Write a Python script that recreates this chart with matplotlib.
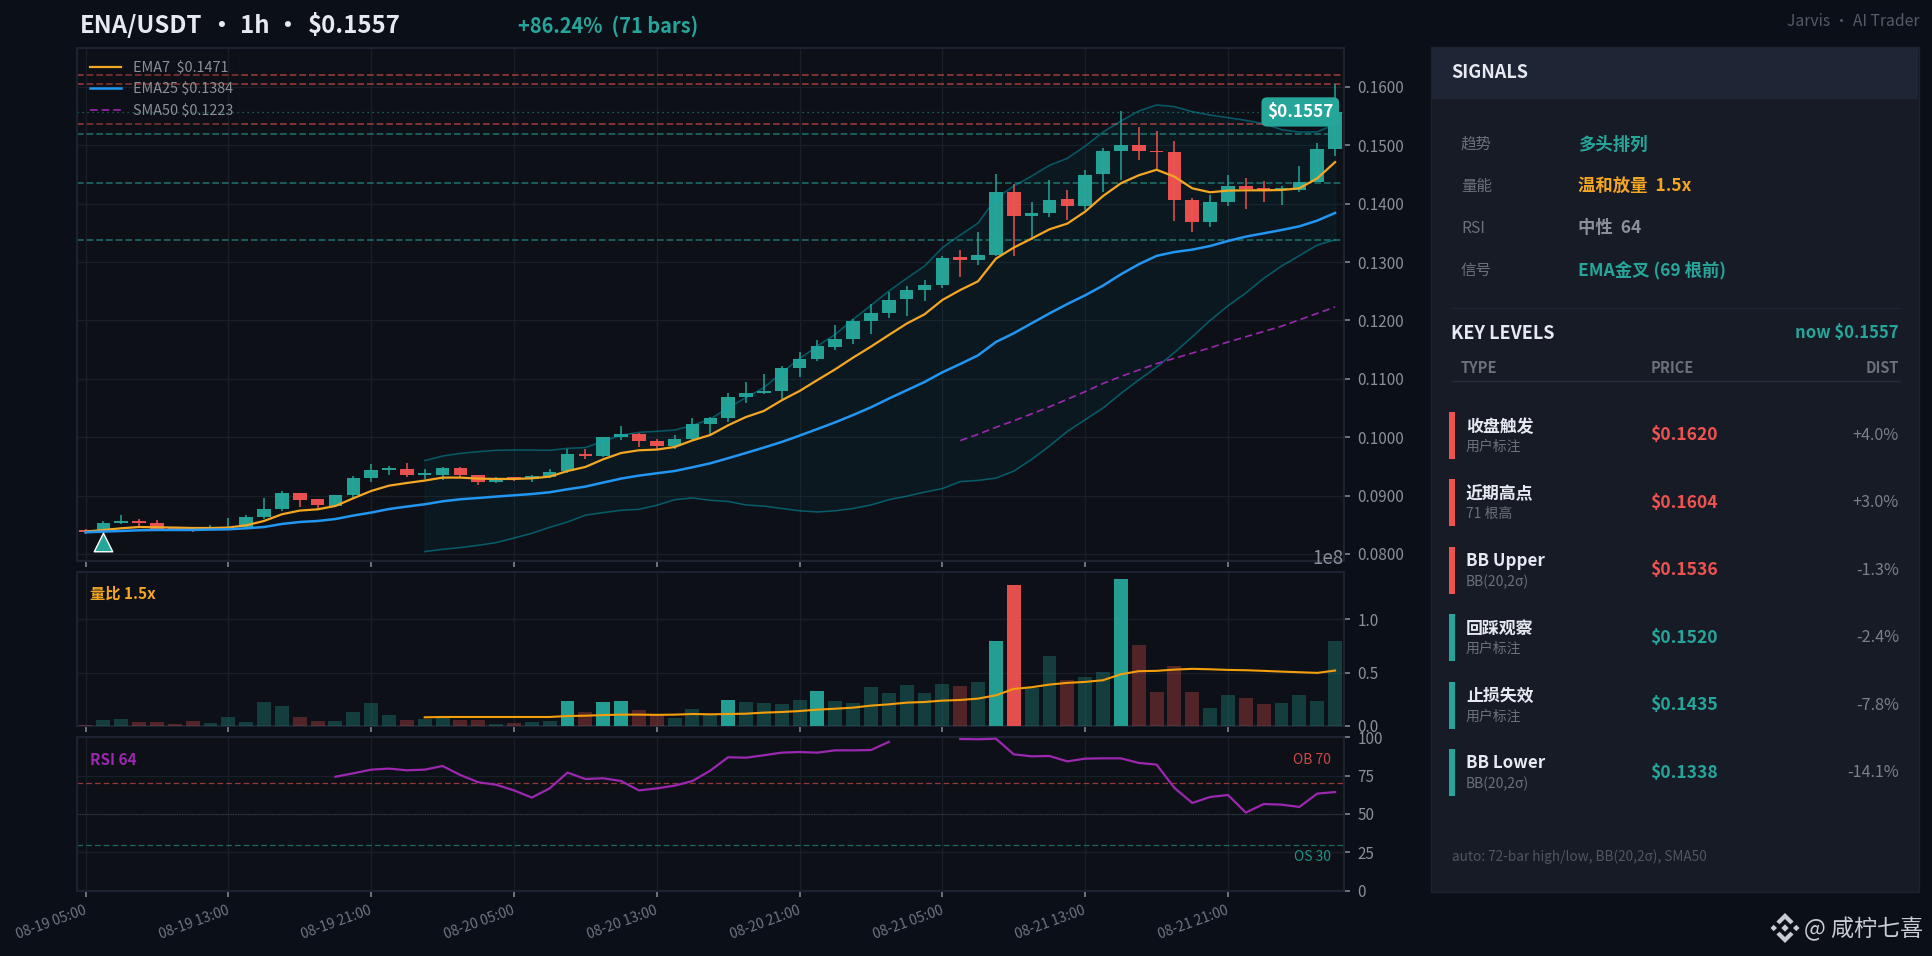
import numpy as np
import matplotlib
matplotlib.use("Agg")
import matplotlib.pyplot as plt
from matplotlib.patches import Rectangle, Polygon
from matplotlib.transforms import ScaledTranslation

plt.rcParams['font.family'] = ['Noto Sans CJK SC', 'DejaVu Sans']

# candles
opens = [.08390, .08394, .08530, .08540, .08525, .08440, .08440, .08420, .08420, .08469, .08640, .08771,
         .09039, .08937, .08822, .09010, .09296, .09440, .09450, .09360, .09360, .09468, .09348, .09233,
         .09295, .09291, .09319, .09421, .09700, .09673, .09998, .10050, .09930, .09844, .09964, .10221,
         .10323, .10683, .10752, .10786, .11180, .11334, .11539, .11676, .11985, .12122, .12361, .12515,
         .12601, .13092, .13029, .13115, .14193, .13783, .13834, .14074, .13954, .14502, .14896, .14998,
         .14896, .14878, .14057, .13680, .14022, .14296, .14245, .14240, .14228, .14365, .14930]
highs = [.08423, .08560, .08663, .08594, .08577, .08470, .08450, .08491, .08611, .08675, .08966, .09086,
         .09050, .08949, .09017, .09330, .09536, .09507, .09553, .09462, .09485, .09485, .09360, .09325,
         .09325, .09360, .09450, .09793, .09793, .10010, .10200, .10079, .09976, .10033, .10335, .10340,
         .10752, .10940, .11077, .11214, .11454, .11659, .11916, .12019, .12276, .12481, .12584, .12686,
         .13097, .13200, .13509, .14502, .14331, .14022, .14399, .14228, .14570, .14947, .15581, .15307,
         .15238, .15067, .14091, .14142, .14485, .14433, .14382, .14296, .14640, .15033, .16040]
lows = [.08337, .08380, .08509, .08470, .08411, .08420, .08377, .08410, .08410, .08452, .08606, .08736,
        .08800, .08783, .08805, .08966, .09228, .09348, .09325, .09279, .09262, .09313, .09176, .09211,
        .09250, .09233, .09308, .09394, .09622, .09668, .09952, .09827, .09805, .09793, .09959, .10062,
        .10255, .10580, .10735, .10649, .11026, .11300, .11488, .11591, .11762, .12036, .12070, .12327,
        .12550, .12743, .12943, .13097, .13097, .13372, .13764, .13714, .13885, .14193, .14399, .14742,
        .14570, .13697, .13509, .13594, .13954, .13903, .14022, .13971, .14193, .14365, .14810]
closes = [.08380, .08526, .08540, .08530, .08435, .08435, .08430, .08440, .08440, .08640, .08765, .09039,
          .08919, .08834, .09005, .09296, .09433, .09460, .09348, .09370, .09468, .09348, .09233, .09308,
          .09285, .09342, .09399, .09707, .09680, .09998, .10050, .09930, .09844, .09964, .10221, .10323,
          .10683, .10752, .10786, .11180, .11334, .11557, .11676, .11985, .12122, .12344, .12515, .12601,
          .13063, .13029, .13115, .14193, .13783, .13834, .14057, .13954, .14485, .14896, .14998, .14896,
          .14880, .14057, .13680, .14022, .14296, .14245, .14240, .14255, .14365, .14930, .15570]

ema7 = [.08384, .08411, .08440, .08462, .08457, .08452, .08445, .08445, .08452, .08491, .08565, .08680,
        .08743, .08765, .08822, .08954, .09079, .09170, .09216, .09257, .09308, .09308, .09291, .09285,
        .09285, .09296, .09325, .09421, .09490, .09622, .09729, .09776, .09788, .09832, .09945, .10038,
        .10204, .10346, .10449, .10632, .10791, .10979, .11163, .11363, .11551, .11750, .11945, .12104,
        .12350, .12520, .12670, .13058, .13247, .13401, .13560, .13658, .13863, .14130, .14348, .14485,
        .14580, .14462, .14262, .14194, .14223, .14228, .14228, .14233, .14262, .14433, .14710]
ema25 = [.08372, .08383, .08394, .08406, .08411, .08411, .08411, .08418, .08423, .08440, .08462, .08514,
         .08548, .08565, .08599, .08658, .08709, .08770, .08812, .08851, .08902, .08937, .08959, .08983,
         .09005, .09027, .09057, .09108, .09154, .09223, .09291, .09342, .09382, .09421, .09485, .09553,
         .09640, .09730, .09822, .09918, .10027, .10140, .10255, .10380, .10512, .10661, .10803, .10945,
         .11111, .11253, .11402, .11630, .11780, .11950, .12120, .12280, .12430, .12596, .12789, .12961,
         .13105, .13171, .13212, .13274, .13360, .13435, .13491, .13548, .13611, .13709, .13840]
sma50 = [np.nan] * 49 + [.09942, .10050, .10170, .10280, .10400, .10520, .10650, .10780, .10920, .11040,
                         .11150, .11260, .11350, .11440, .11530, .11630, .11720, .11810, .11900, .12010,
                         .12120, .12230]
bb_upper = [np.nan] * 19 + [.09600, .09678, .09724, .09753, .09776, .09781, .09781, .09776, .09810, .09822,
                            .09935, .10033, .10084, .10101, .10123, .10204, .10310, .10507, .10678, .10849,
                            .11106, .11346, .11562, .11762, .12019, .12259, .12503, .12721, .12932, .13247,
                            .13462, .13668, .14090, .14301, .14473, .14656, .14776, .14986, .15226, .15414,
                            .15586, .15690, .15661, .15575, .15517, .15473, .15426, .15370, .15267, .15226,
                            .15229, .15360]
bb_lower = [np.nan] * 19 + [.08041, .08080, .08110, .08149, .08195, .08274, .08354, .08457, .08548, .08665,
                            .08709, .08748, .08765, .08834, .08930, .08959, .08920, .08900, .08840, .08820,
                            .08780, .08740, .08720, .08740, .08780, .08840, .08930, .08990, .09060, .09120,
                            .09240, .09260, .09300, .09420, .09620, .09850, .10100, .10300, .10500, .10750,
                            .10980, .11200, .11450, .11720, .12000, .12250, .12470, .12720, .12930, .13110,
                            .13290, .13380]

# volume in units of 1e8
volume = [.006, .053, .063, .035, .035, .016, .044, .025, .082, .035, .223, .186, .082, .044, .044, .129,
          .214, .100, .053, .063, .072, .053, .053, .016, .025, .035, .044, .233, .129, .223, .233, .148,
          .100, .072, .157, .100, .242, .223, .214, .204, .242, .327, .233, .214, .365, .308, .384, .308,
          .393, .374, .412, .799, 1.327, .355, .657, .431, .459, .506, 1.384, .761, .318, .563, .318, .167,
          .289, .261, .204, .214, .289, .233, .799]
vol_ma = [np.nan] * 19 + [.079, .082, .082, .082, .082, .082, .082, .082, .091, .094, .100, .104, .104, .102,
                          .104, .110, .107, .110, .113, .123, .129, .138, .151, .160, .170, .189, .201, .217,
                          .223, .236, .242, .255, .286, .346, .362, .387, .403, .412, .428, .484, .513, .516,
                          .528, .535, .531, .525, .522, .516, .509, .503, .497, .519]
vol_spikes = [27, 29, 30, 36, 41, 51, 52, 58]

rsi = [np.nan] * 14 + [74.3, 76.5, 78.9, 79.6, 78.5, 78.9, 81.3, 75.4, 70.7, 69.1, 65.4, 60.7, 66.7, 77.0,
                       72.8, 73.3, 71.5, 65.4, 66.7, 68.5, 71.5, 78.3, 87.0, 86.7, 88.3, 90.0, 90.4, 90.0,
                       91.5, 91.5, 91.7, 97.0, np.nan, np.nan, np.nan, 98.9, 98.7, 99.1, 88.9, 87.6, 87.8,
                       84.3, 86.1, 86.3, 86.3, 83.3, 82.2, 67.0, 57.2, 61.1, 62.4, 50.9, 56.5, 56.1, 54.6,
                       63.3, 64.3]

date_ticks = [0, 8, 16, 24, 32, 40, 48, 56, 64]
date_labels = ['08-19 05:00', '08-19 13:00', '08-19 21:00', '08-20 05:00', '08-20 13:00',
               '08-20 21:00', '08-21 05:00', '08-21 13:00', '08-21 21:00']
price_ticks = [.08, .09, .10, .11, .12, .13, .14, .15, .16]

# key levels, top to bottom
level_names = ['收盘触发', '近期高点', 'BB Upper', '回踩观察', '止损失效', 'BB Lower']
level_subs = ['用户标注', '71 根高', 'BB(20,2σ)', '用户标注', '用户标注', 'BB(20,2σ)']
level_prices = [.1620, .1604, .1536, .1520, .1435, .1338]
level_dists = ['+4.0%', '+3.0%', '-1.3%', '-2.4%', '-7.8%', '-14.1%']
last_price = .1557

signal_keys = ['趋势', '量能', 'RSI', '信号']
signal_vals = ['多头排列', '温和放量  1.5x', '中性  64', 'EMA金叉 (69 根前)']

BG = '#0b0f17'
AX_BG = '#0d1117'
PANEL = '#161b26'
HEAD = '#1e2535'
EDGE = '#1c2230'
GRID = '#191e28'
TEAL = '#26a69a'
BAND = '#00acc1'
RED = '#ef5350'
ORANGE = '#f5a623'
BLUE = '#2196f3'
PURPLE = '#9c27b0'
TICK = '#8a8f98'
W, H = 1933, 956


def px_axes(left, top, right, bottom):
    return fig.add_axes([left / W, 1 - bottom / H, (right - left) / W, (bottom - top) / H])


fig = plt.figure(figsize=(W / 100, H / 100), dpi=100, facecolor=BG)
ax = px_axes(76.6, 47.7, 1344, 560.7)
ax_vol = px_axes(76.6, 571.7, 1344, 725.7)
ax_rsi = px_axes(76.6, 737.3, 1344, 890.7)

x = np.arange(len(closes))
opens, highs, lows, closes = map(np.array, (opens, highs, lows, closes))
up = closes >= opens
colors = np.where(up, TEAL, RED)

for a in (ax, ax_vol, ax_rsi):
    a.set_facecolor(AX_BG)
    a.set_xlim(-0.5, 70.5)
    a.set_xticks(date_ticks)
    a.yaxis.tick_right()
    a.grid(True, color=GRID, lw=0.9)
    a.set_axisbelow(True)
    a.tick_params(colors=TICK, labelsize=11, length=4.5, width=1.1, pad=5)
    a.tick_params(axis='x', labelbottom=False)
    for s in a.spines.values():
        s.set_color(EDGE)
        s.set_linewidth(1.5)

# price panel
ax.set_ylim(.07885, .16670)
ax.set_yticks(price_ticks)
ax.set_yticklabels(['%.4f' % p for p in price_ticks])

ax.fill_between(x, bb_lower, bb_upper, color=BAND, alpha=0.05, zorder=1)
for p in level_prices:
    c = RED if p > last_price or p == .1536 else TEAL
    ax.axhline(p, color=c, lw=1.2, ls=(0, (4, 1.8)), alpha=0.6, zorder=1.5)
ax.axhline(last_price, color=TEAL, lw=0.9, ls=(0, (1, 3)), alpha=0.7, zorder=1.5)

ax.vlines(x, lows, highs, colors=colors, lw=1.45, alpha=0.75, zorder=3)
ax.bar(x, np.maximum(np.abs(closes - opens), .00028), 0.76, np.minimum(opens, closes),
       color=colors, alpha=0.97, zorder=3.2)

ax.plot(x, bb_upper, color=BAND, lw=1.1, alpha=0.45, zorder=3.5)
ax.plot(x, bb_lower, color=BAND, lw=1.1, alpha=0.45, zorder=3.5)
l1, = ax.plot(x, ema7, color=ORANGE, lw=1.6, zorder=4, label='EMA7  $%.4f' % ema7[-1])
l2, = ax.plot(x, ema25, color=BLUE, lw=1.8, zorder=4, label='EMA25 $%.4f' % ema25[-1])
l3, = ax.plot(x, sma50, color=PURPLE, lw=1.2, ls=(0, (4.5, 2.5)), zorder=4, label='SMA50 $%.4f' % sma50[-1])
ax.scatter([1], [.0821], marker='^', s=178, color=TEAL, edgecolor='white', linewidth=1, zorder=5)

leg = ax.legend(handles=[l1, l2, l3], loc='upper left', fontsize=10.4, frameon=True, facecolor=AX_BG,
                framealpha=0.15, edgecolor=GRID, labelcolor=TICK, handlelength=2.2, handletextpad=0.8,
                labelspacing=0.53, borderaxespad=0.5, borderpad=0.4)
leg.set_zorder(2)

ax.text(68.05, last_price, '$%.4f' % last_price, color='white', fontsize=12.3, fontweight='bold',
        ha='center', va='center', zorder=7,
        bbox=dict(boxstyle='round,pad=0.33', fc=TEAL, ec='none'))

# volume panel
volume = np.array(volume) * 1e8
vol_ma = np.array(vol_ma) * 1e8
vol_alpha = np.full(len(volume), 0.3)
vol_alpha[vol_spikes] = 0.95
for xi, v, c, al in zip(x, volume, colors, vol_alpha):
    ax_vol.bar(xi, v, 0.78, color=c, alpha=al, zorder=3)
ax_vol.plot(x, vol_ma, color='#f59e0b', lw=1.5, zorder=4)
ax_vol.set_ylim(0, 1.449e8)
ax_vol.set_yticks([0, 0.5e8, 1e8])
ax_vol.yaxis.OFFSETTEXTPAD = 5.5
ax_vol.yaxis.get_offset_text().set_color(TICK)
ax_vol.yaxis.get_offset_text().set_fontsize(13.5)
ax_vol.text(0.0105, 0.855, '量比 1.5x', transform=ax_vol.transAxes, color=ORANGE, fontsize=11,
            fontweight='bold', va='center')

# rsi panel
ax_rsi.plot(x, rsi, color=PURPLE, lw=1.6, zorder=4)
ax_rsi.axhline(70, color=RED, lw=0.9, ls=(0, (4.5, 2.5)), alpha=0.6)
ax_rsi.axhline(30, color=TEAL, lw=0.9, ls=(0, (4.5, 2.5)), alpha=0.6)
ax_rsi.axhline(50, color=TICK, lw=0.7, ls=(0, (1, 1.5)), alpha=0.35)
ax_rsi.set_ylim(0, 100)
ax_rsi.set_yticks([0, 25, 50, 75, 100])
ax_rsi.text(0.0105, 0.855, 'RSI 64', transform=ax_rsi.transAxes, color=PURPLE, fontsize=11,
            fontweight='bold', va='center')
ax_rsi.text(0.9895, 0.855, 'OB 70', transform=ax_rsi.transAxes, color=RED, alpha=0.85, fontsize=10,
            ha='right', va='center')
ax_rsi.text(0.9895, 0.217, 'OS 30', transform=ax_rsi.transAxes, color=TEAL, alpha=0.85, fontsize=10,
            ha='right', va='center')
ax_rsi.tick_params(axis='x', labelbottom=True, labelcolor='#6e7681', labelsize=10)
ax_rsi.set_xticklabels(date_labels, rotation=20, ha='right')
for t in ax_rsi.get_xticklabels():
    t.set_transform(t.get_transform() + ScaledTranslation(2.5 / 100, 0, fig.dpi_scale_trans))

# overlay in pixels for the side panel, header and watermark
ov = fig.add_axes([0, 0, 1, 1], zorder=10)
ov.set_xlim(0, W)
ov.set_ylim(H, 0)
ov.axis('off')

title_parts = ['ENA/USDT', '·', '1h', '·', '$%.4f' % last_price]
title_xs = [80, 209, 240, 275.5, 308]
for part, tx in zip(title_parts, title_xs):
    ov.text(tx, 26, part, color='#e6e9ef', fontsize=17.3, fontweight='bold', va='center')
ov.text(518, 26, '+86.24%  (71 bars)', color=TEAL, fontsize=14.4, fontweight='bold', va='center')
ov.text(1920, 21, 'Jarvis · AI Trader', color='#555b66', fontsize=11.3, ha='right', va='center')

ov.add_patch(Rectangle((1431, 47.3), 488, 844.5, fc=PANEL, ec=EDGE, lw=1))
ov.add_patch(Rectangle((1432, 48), 486, 51, fc=HEAD, ec='none'))
ov.text(1451, 72, 'SIGNALS', color='#e6e9ef', fontsize=13, fontweight='bold', va='center')

sig_colors = [TEAL, ORANGE, TICK, TEAL]
for i, (k, v, c) in enumerate(zip(signal_keys, signal_vals, sig_colors)):
    y = 144.3 + i * 42
    ov.text(1461, y, k, color='#6b707a', fontsize=11.2, va='center')
    ov.text(1578, y, v, color=c, fontsize=12.5, fontweight='bold', va='center')

ov.plot([1452, 1900], [308.3, 308.3], color='#1f2533', lw=1)
ov.text(1451, 333.5, 'KEY LEVELS', color='#e6e9ef', fontsize=13, fontweight='bold', va='center')
ov.text(1899, 333.5, 'now $%.4f' % last_price, color=TEAL, fontsize=12, fontweight='bold', ha='right', va='center')
ov.text(1461, 368, 'TYPE', color='#6b707a', fontsize=10.5, fontweight='bold', va='center')
ov.text(1651, 368, 'PRICE', color='#6b707a', fontsize=10.5, fontweight='bold', va='center')
ov.text(1899, 368, 'DIST', color='#6b707a', fontsize=10.5, fontweight='bold', ha='right', va='center')
ov.plot([1452, 1900], [381.3, 381.3], color='#262c3a', lw=1)

for i, (name, sub, p, d) in enumerate(zip(level_names, level_subs, level_prices, level_dists)):
    yc = 435.5 + i * 67.4
    c = RED if i < 3 else TEAL
    ov.add_patch(Rectangle((1449, yc - 23.5), 6, 47, fc=c, ec='none'))
    ov.text(1466, yc - 9, name, color='#e6e9ef', fontsize=12.2, fontweight='bold', va='center')
    ov.text(1466, yc + 11.5, sub, color='#6b707a', fontsize=10, va='center')
    ov.text(1650.5, yc, '$%.4f' % p, color=c, fontsize=12.6, fontweight='bold', va='center')
    ov.text(1899, yc, d, color='#7a7f8a', fontsize=11.7, ha='right', va='center')

ov.text(1452, 856.7, 'auto: 72-bar high/low, BB(20,2σ), SMA50', color='#50555f', fontsize=9.8, va='center')

# watermark
wm = '#c9ccd1'
cx, cy = 1785, 928
ov.add_patch(Polygon([(cx, cy - 3.7), (cx + 3.7, cy), (cx, cy + 3.7), (cx - 3.7, cy)], fc=wm))
ov.add_patch(Polygon([(cx - 14.5, cy), (cx - 11.3, cy - 3.2), (cx - 8, cy), (cx - 11.3, cy + 3.2)], fc=wm))
ov.add_patch(Polygon([(cx + 14.5, cy), (cx + 11.3, cy - 3.2), (cx + 8, cy), (cx + 11.3, cy + 3.2)], fc=wm))
ov.add_patch(Polygon([(cx, cy - 15), (cx + 8.6, cy - 6.4), (cx + 5.4, cy - 3.7), (cx, cy - 9), (cx - 5.4, cy - 3.7), (cx - 8.6, cy - 6.4)], fc=wm))
ov.add_patch(Polygon([(cx, cy + 15), (cx + 8.6, cy + 6.4), (cx + 5.4, cy + 3.7), (cx, cy + 9), (cx - 5.4, cy + 3.7), (cx - 8.6, cy + 6.4)], fc=wm))
ov.text(1923, 929.5, '@ 咸柠七喜', color=wm, fontsize=16.6, ha='right', va='center')

fig.savefig('out.png', dpi=100, facecolor=BG)
